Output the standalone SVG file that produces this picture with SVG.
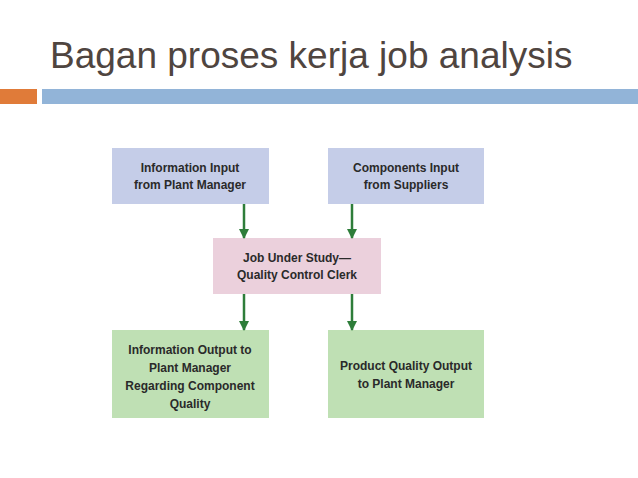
<svg xmlns="http://www.w3.org/2000/svg" width="638" height="478" viewBox="0 0 638 478">
<style>
.t{font-family:"Liberation Sans",Arial,sans-serif;font-size:12px;font-weight:bold;fill:#2a2a2a;text-anchor:middle}
.c{stroke:#2e7d3a;stroke-width:2.5;fill:none;marker-end:url(#a)}
</style>
<defs><marker id="a" viewBox="0 0 10 10" refX="9" refY="5" markerWidth="4" markerHeight="4" orient="auto"><path d="M0,0L10,5L0,10z" fill="#2e7d3a"/></marker></defs>
<rect width="638" height="478" fill="#fff"/>
<text x="50" y="68" font-family="Liberation Sans,Arial,sans-serif" font-size="37" fill="#4f4540">Bagan proses kerja job analysis</text>
<rect x="0" y="89" width="37" height="15" fill="#e07b39"/>
<rect x="42" y="89" width="596" height="15" fill="#92b4d8"/>
<g id="n1"><rect x="112" y="148" width="157" height="56" fill="#c5cde8"/><text class="t" x="190" y="172">Information Input</text><text class="t" x="190" y="189">from  Plant Manager</text></g>
<g id="n2"><rect x="328" y="148" width="156" height="56" fill="#c5cde8"/><text class="t" x="406" y="172">Components Input</text><text class="t" x="406" y="189">from Suppliers</text></g>
<g id="n3"><rect x="213" y="238" width="168" height="56" fill="#ebd0dc"/><text class="t" x="297" y="262">Job Under Study—</text><text class="t" x="297" y="279">Quality Control Clerk</text></g>
<g id="n4"><rect x="112" y="330" width="157" height="88" fill="#bfe0b4"/><text class="t" x="190" y="354">Information Output to</text><text class="t" x="190" y="372">Plant Manager</text><text class="t" x="190" y="390">Regarding Component</text><text class="t" x="190" y="408">Quality</text></g>
<g id="n5"><rect x="328" y="330" width="156" height="88" fill="#bfe0b4"/><text class="t" x="406" y="370">Product Quality Output</text><text class="t" x="406" y="388">to Plant Manager</text></g>
<g id="conn">
<path class="c" d="M244 204V238"/><path class="c" d="M352 204V238"/>
<path class="c" d="M244 294V330"/><path class="c" d="M352 294V330"/>
</g>
</svg>
